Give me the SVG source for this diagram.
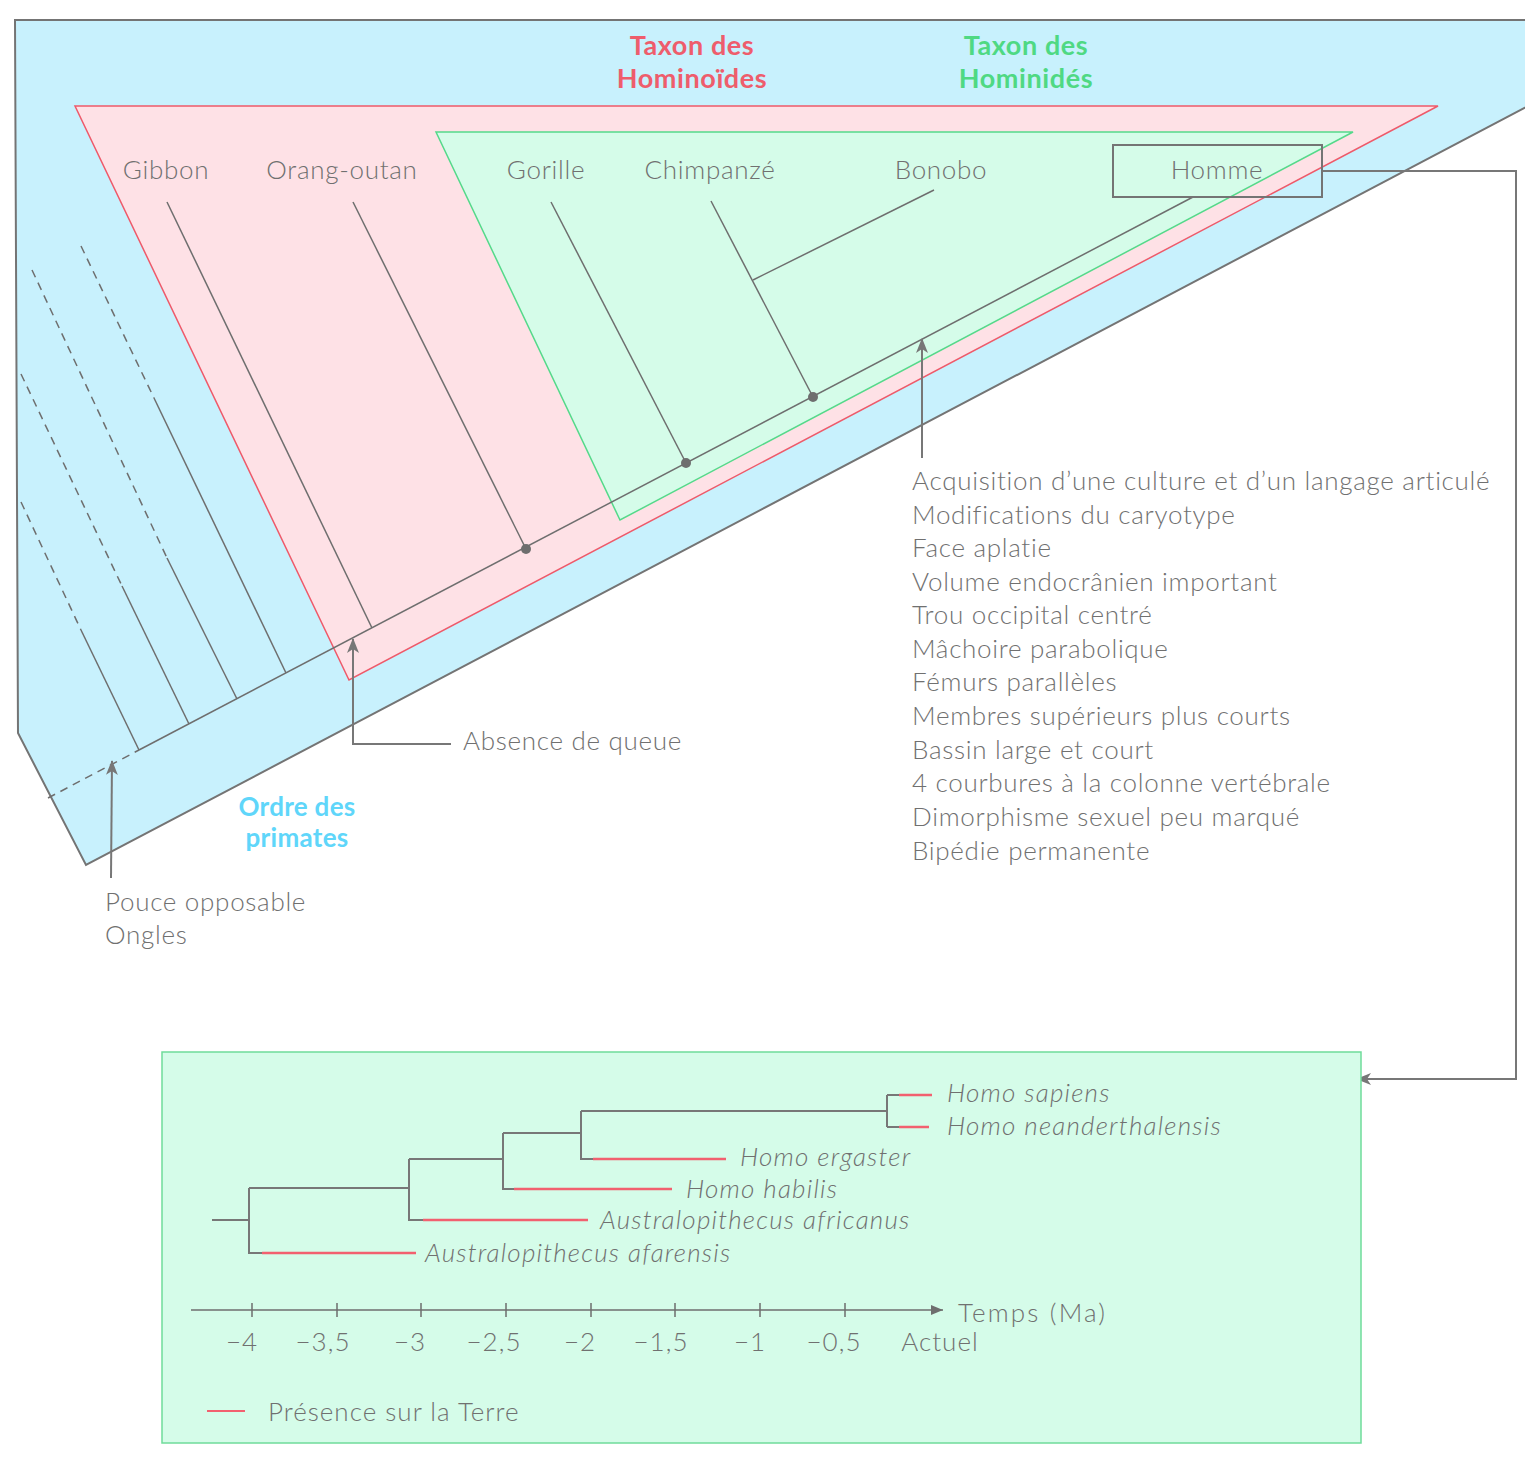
<svg xmlns="http://www.w3.org/2000/svg" width="1525" height="1475" viewBox="0 0 1525 1475">
<defs>
<style>
.t{font-family:Lato,"Liberation Sans",sans-serif;font-size:26px;fill:#707070;font-weight:300;letter-spacing:0.7px}
.b{letter-spacing:1px}
.ti{font-family:Lato,"Liberation Sans",sans-serif;font-size:26px;fill:#707070;font-style:italic;font-weight:300;letter-spacing:1.2px}
.h{font-family:Lato,"Liberation Sans",sans-serif;font-size:27px;font-weight:700;text-anchor:middle;letter-spacing:0.6px}
.o{font-size:26px;letter-spacing:0.3px}
.c{text-anchor:middle}
.ln{stroke:#6e6e6e;stroke-width:1.5;fill:none}
.dl{stroke:#6e6e6e;stroke-width:1.5;fill:none;stroke-dasharray:8,6}
.ar{stroke:#777;stroke-width:2;fill:none}
.tr{stroke:#777;stroke-width:2;fill:none}
.rd{stroke:#f2606f;stroke-width:2.5;fill:none}
</style>
<marker id="ah" markerWidth="15" markerHeight="12" refX="14" refY="6" orient="auto" markerUnits="userSpaceOnUse">
<path d="M0,0 L15,6 L0,12 L4,6 Z" fill="#777"/>
</marker>
<marker id="ah2" markerWidth="12" markerHeight="10" refX="12" refY="5" orient="auto" markerUnits="userSpaceOnUse">
<path d="M0,0 L12,5 L0,10 Z" fill="#6e6e6e"/>
</marker>
</defs>

<g id="ordre-primates">
<polygon points="15,20 1530,20 1530,105 86,865 18,733" fill="#c8f1fd" stroke="#747474" stroke-width="2"/>
<text class="h o" x="297" y="816" fill="#5fd6fa">Ordre des</text>
<text class="h o" x="297" y="847" fill="#5fd6fa">primates</text>
</g>

<g id="taxon-hominoides">
<polygon points="75,106 1438,106 349,680" fill="#fee1e6" stroke="#ee5a6a" stroke-width="1.5"/>
<text class="h" x="692" y="55" fill="#ee5d6c">Taxon des</text>
<text class="h" x="692" y="88" fill="#ee5d6c">Hominoïdes</text>
</g>

<g id="taxon-hominides">
<polygon points="436,132 1353,132 620,520" fill="#d5fce9" stroke="#55d98a" stroke-width="1.5"/>
<text class="h" x="1026" y="55" fill="#4fd983">Taxon des</text>
<text class="h" x="1026" y="88" fill="#4fd983">Hominidés</text>
</g>

<g id="tree-connectors">
<line class="dl" x1="48" y1="798" x2="139" y2="750"/>
<line class="ln" x1="139" y1="750" x2="1193" y2="197"/>
<line class="dl" x1="81" y1="246" x2="154" y2="398"/>
<line class="ln" x1="154" y1="398" x2="286" y2="673"/>
<line class="dl" x1="32" y1="270" x2="167" y2="558"/>
<line class="ln" x1="167" y1="558" x2="237" y2="699"/>
<line class="dl" x1="21" y1="374" x2="122" y2="586"/>
<line class="ln" x1="122" y1="586" x2="189" y2="724"/>
<line class="dl" x1="21" y1="502" x2="81" y2="630"/>
<line class="ln" x1="81" y1="630" x2="139" y2="750"/>
<line class="ln" x1="167" y1="202" x2="372" y2="628"/>
<line class="ln" x1="353" y1="202" x2="526" y2="549"/>
<line class="ln" x1="551" y1="202" x2="686" y2="463"/>
<line class="ln" x1="711" y1="201" x2="813" y2="397"/>
<line class="ln" x1="934" y1="190" x2="753" y2="280"/>
<circle cx="526" cy="549" r="5" fill="#6e6e6e"/>
<circle cx="686" cy="463" r="5" fill="#6e6e6e"/>
<circle cx="813" cy="397" r="5" fill="#6e6e6e"/>
<path class="ar" d="M111,878 L112,761" marker-end="url(#ah)"/>
<path class="ar" d="M451,744 L353,744 L353,639" marker-end="url(#ah)"/>
<path class="ar" d="M922,458 L922,339" marker-end="url(#ah)"/>
<path class="ar" d="M1322,171 L1516,171 L1516,1079 L1357,1079" marker-end="url(#ah)"/>
</g>

<g id="species-labels">
<text class="t c" x="166" y="179">Gibbon</text>
<text class="t c" x="342" y="179">Orang-outan</text>
<text class="t c" x="546" y="179">Gorille</text>
<text class="t c" x="710" y="179">Chimpanzé</text>
<text class="t c" x="941" y="179">Bonobo</text>
</g>

<g id="homme">
<rect x="1113" y="145" width="209" height="52" fill="none" stroke="#747474" stroke-width="2"/>
<text class="t c" x="1217" y="179">Homme</text>
</g>

<g id="pouce">
<text class="t" x="105" y="911">Pouce opposable</text>
<text class="t" x="105" y="944">Ongles</text>
</g>

<g id="queue">
<text class="t" x="463" y="750">Absence de queue</text>
</g>

<g id="caracteres-homme">
<text class="t" x="912" y="490">Acquisition d’une culture et d’un langage articulé</text>
<text class="t" x="912" y="524">Modifications du caryotype</text>
<text class="t" x="912" y="557">Face aplatie</text>
<text class="t" x="912" y="591">Volume endocrânien important</text>
<text class="t" x="912" y="624">Trou occipital centré</text>
<text class="t" x="912" y="658">Mâchoire parabolique</text>
<text class="t" x="912" y="691">Fémurs parallèles</text>
<text class="t" x="912" y="725">Membres supérieurs plus courts</text>
<text class="t" x="912" y="759">Bassin large et court</text>
<text class="t" x="912" y="792">4 courbures à la colonne vertébrale</text>
<text class="t" x="912" y="826">Dimorphisme sexuel peu marqué</text>
<text class="t" x="912" y="860">Bipédie permanente</text>
</g>

<g id="lignee-humaine">
<rect x="162" y="1052" width="1199" height="391" fill="#d5fce9" stroke="#6fdc9a" stroke-width="1.5"/>
<path class="tr" d="M212,1220 H249 M249,1188 V1253 H262 M249,1188 H409 M409,1159 V1220 H423 M409,1159 H503 M503,1133 V1189 H514 M503,1133 H581 M581,1111 V1159 H593 M581,1111 H887 M887,1095 V1127 M887,1095 H899 M887,1127 H899"/>
<path class="rd" d="M262,1253 H416 M423,1220 H588 M514,1189 H672 M593,1159 H726 M899,1095 H932 M899,1127 H929"/>
<text class="ti" x="947" y="1102">Homo sapiens</text>
<text class="ti" x="947" y="1135">Homo neanderthalensis</text>
<text class="ti" x="740" y="1166">Homo ergaster</text>
<text class="ti" x="686" y="1198">Homo habilis</text>
<text class="ti" x="600" y="1229">Australopithecus africanus</text>
<text class="ti" x="425" y="1262">Australopithecus afarensis</text>
<line x1="191" y1="1310" x2="943" y2="1310" stroke="#6e6e6e" stroke-width="1.5" marker-end="url(#ah2)"/>
<path stroke="#6e6e6e" stroke-width="1.5" d="M252,1303 V1317 M337,1303 V1317 M421,1303 V1317 M506,1303 V1317 M591,1303 V1317 M675,1303 V1317 M760,1303 V1317 M845,1303 V1317"/>
<text class="t b c" x="242" y="1351">−4</text>
<text class="t b c" x="323" y="1351">−3,5</text>
<text class="t b c" x="410" y="1351">−3</text>
<text class="t b c" x="494" y="1351">−2,5</text>
<text class="t b c" x="580" y="1351">−2</text>
<text class="t b c" x="661" y="1351">−1,5</text>
<text class="t b c" x="750" y="1351">−1</text>
<text class="t b c" x="834" y="1351">−0,5</text>
<text class="t b c" x="940" y="1351">Actuel</text>
<text class="t b" x="958" y="1322" textLength="148">Temps (Ma)</text>
<line x1="207" y1="1411" x2="245" y2="1411" stroke="#f2606f" stroke-width="2"/>
<text class="t b" x="268" y="1421">Présence sur la Terre</text>
</g>
</svg>
